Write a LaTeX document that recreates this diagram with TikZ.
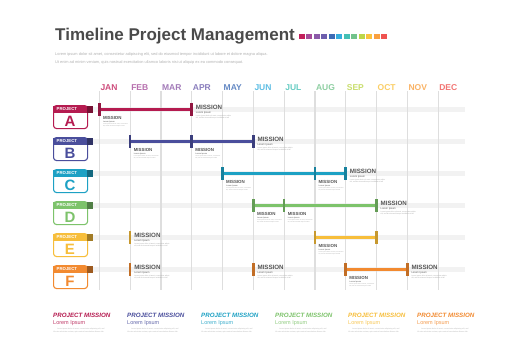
\documentclass[tikz,border=0pt]{standalone}
\usepackage{fontspec}
\setmainfont{Liberation Sans}
\usetikzlibrary{calc,positioning}

\definecolor{colA}{HTML}{B51B50}
\definecolor{colB}{HTML}{4A4E9C}
\definecolor{colC}{HTML}{1DA1C4}
\definecolor{colD}{HTML}{7DC36B}
\definecolor{colE}{HTML}{F7BE3B}
\definecolor{colF}{HTML}{F28A30}
\definecolor{m1}{HTML}{C21F5B}
\definecolor{m2}{HTML}{A54C9A}
\definecolor{m3}{HTML}{8C5AA8}
\definecolor{m4}{HTML}{6D5EAD}
\definecolor{m5}{HTML}{3D6BB5}
\definecolor{m6}{HTML}{36AEDD}
\definecolor{m7}{HTML}{44C0B5}
\definecolor{m8}{HTML}{72C38B}
\definecolor{m9}{HTML}{BCD649}
\definecolor{m10}{HTML}{FAC23F}
\definecolor{m11}{HTML}{F9A03F}
\definecolor{m12}{HTML}{EF5350}
\definecolor{titlegray}{HTML}{4A4A4A}
\definecolor{misgray}{HTML}{555555}

\newcommand{\bigmistext}{MISSION\\[0.8pt]
  \fontsize{2.6}{3}\selectfont\mdseries Lorem Ipsum\\
  \fontsize{1.7}{2.2}\selectfont\mdseries\color{black!35}Lorem ipsum dolor sit amet, consectetur adipis\\
  \fontsize{1.7}{2.2}\selectfont\mdseries\color{black!35}elit, sed do eiusmod tempor incididunt ut lab}
\newcommand{\smallmistext}{MISSION\\[0.5pt]
  \fontsize{2}{2.4}\selectfont\mdseries Lorem Ipsum\\
  \fontsize{1.4}{1.8}\selectfont\mdseries\color{black!35}Lorem ipsum dolor sit amet, consectetur\\
  \fontsize{1.4}{1.8}\selectfont\mdseries\color{black!35}elit, sed do eiusmod tempor incidid}

\tikzset{
  gridline/.style={draw=black!13, line width=1.2pt},
  band/.style={fill=black!5},
  monthlabel/.style={anchor=base west, inner sep=0pt,
    font=\fontsize{8.5}{9}\selectfont\bfseries},
  projbox/.style={draw=#1, line width=1.1pt, rounded corners=3pt, fill=white,
    minimum width=34pt, minimum height=23pt, anchor=north west, inner sep=0pt},
  projtag/.style={fill=#1, text=white, anchor=north west, inner xsep=3.5pt,
    inner ysep=0pt, text width=27pt, align=left, minimum height=6.5pt,
    font=\fontsize{4.3}{4.5}\selectfont\bfseries},
  projletter/.style={text=#1, inner sep=0pt,
    font=\fontsize{15}{15}\selectfont\bfseries},
  ganttbar/.style={draw=#1, line width=2.6pt},
  tickmark/.style={draw=#1!80!black, line width=2.7pt},
  bigmis/.style={anchor=north west, inner sep=0pt, align=left, text=misgray,
    font=\fontsize{6.2}{2.8}\selectfont\bfseries},
  smallmis/.style={anchor=north west, inner sep=0pt, align=left, text=misgray,
    font=\fontsize{4.4}{2.1}\selectfont\bfseries},
  pmtitle/.style={anchor=base west, inner sep=0pt, text=#1,
    font=\fontsize{6.2}{6.5}\selectfont\bfseries\itshape},
  pmsub/.style={inner sep=0pt, text=#1!85,
    font=\fontsize{5.5}{6}\selectfont},
  pmline/.style={inner sep=0pt, align=left, text=black!30,
    font=\fontsize{1.8}{2.8}\selectfont},
}

\begin{document}
\begin{tikzpicture}[x=1pt, y=-1pt]
  \useasboundingbox[fill=white] (0,0) rectangle (509,360);

  % header
  \node[anchor=base west, inner sep=0pt, text=titlegray,
    font=\fontsize{17}{17}\selectfont\bfseries] (title) at (55,40)
    {Timeline Project Management};
  \foreach \i in {1,...,12}
    \fill[m\i] ({299+7.45*(\i-1)},34.3) rectangle ++(6,4.8);
  \node[anchor=base west, inner sep=0pt, text=black!30,
    font=\fontsize{3.9}{4}\selectfont] (lorem1) at (55,55)
    {Lorem ipsum dolor sit amet, consectetur adipiscing elit, sed do eiusmod tempor incididunt ut labore et dolore magna aliqua.};
  \node[anchor=base west, inner sep=0pt, text=black!30,
    font=\fontsize{3.9}{4}\selectfont] (lorem2) at (55,63)
    {Ut enim ad minim veniam, quis nostrud exercitation ullamco laboris nisi ut aliquip ex ea commodo consequat.};

  % months and rows
  \foreach \i in {1,...,12}
    \coordinate (g\i) at ({99.3+30.8*(\i-1)},0);
  \foreach \p [count=\r from 0] in {A,B,C,D,E,F}{
    \coordinate (r\p) at (0,{109.5+32*\r});
    \fill[band] ($(r\p)+(93,-2.7)$) rectangle ($(r\p)+(465,2.7)$);
  }
  \foreach \m [count=\i] in {JAN,FEB,MAR,APR,MAY,JUN,JUL,AUG,SEP,OCT,NOV,DEC}{
    \draw[gridline] ($(g\i)+(0,91)$) -- ($(g\i)+(0,290)$);
    \node[monthlabel, text=m\i!80] (mon\i) at ($(g\i)+(1,90.5)$) {\m};
  }

  % project boxes
  \foreach \p in {A,B,C,D,E,F}{
    \node[projbox=col\p] (box\p) at ($(r\p)+(53,-4.5)$) {};
    \node[projtag=col\p] (tag\p) at ($(r\p)+(53,-3.5)$) {PROJECT};
    \fill[col\p!65!black] (tag\p.north east) rectangle ++(6,6.5);
    \node[projletter=col\p] (let\p) at ($(r\p)+(70,11.5)$) {\p};
  }

  % gantt bars
  \foreach \p/\ms in {A/{1,4},B/{2,4,6},C/{5,8,9},D/{6,7,10},E/{2,8,10},F/{2,6,9,11}}
    \foreach \m in \ms
      \coordinate (\p\m) at (g\m|-r\p);
  \draw[ganttbar=colA] (A1) -- (A4);
  \draw[ganttbar=colB] (B2) -- (B6);
  \draw[ganttbar=colC] (C5) -- (C9);
  \draw[ganttbar=colD] (D6) -- (D10);
  \draw[ganttbar=colE] (E8) -- (E10);
  \draw[ganttbar=colF] (F9) -- (F11);
  \foreach \p/\ms in {A/{1,4},B/{2,4,6},C/{5,8,9},D/{6,7,10},E/{2,8,10},F/{2,6,9,11}}
    \foreach \m in \ms
      \draw[tickmark=col\p] ([yshift=6.5pt]\p\m) -- ([yshift=-6.5pt]\p\m);

  % mission labels
  \foreach \c in {A1,B2,B4,C5,C8,D6,D7,E8,F9}
    \node[smallmis] (s\c) at ($(\c)+(3.5,7)$) {\smallmistext};
  \foreach \c in {A4,B6,C9,D10,E2,F2,F6,F11}
    \node[bigmis] (b\c) at ($(\c)+(4,-4.4)$) {\bigmistext};

  % footer
  \foreach \p/\x in {A/53,B/127,C/201,D/275,E/348,F/417}{
    \node[pmtitle=col\p] (pm\p) at (\x,317) {PROJECT MISSION};
    \node[pmsub=col\p, below=3.5pt of pm\p.south west, anchor=north west] (pl\p) {Lorem Ipsum};
    \node[pmline, below=2pt of pl\p.south west, anchor=north west] (pt\p)
      {\hspace{4pt}Lorem ipsum dolor sit amet, consectetur adipiscing elit, sed\\
       Ut enim ad minim veniam, quis nostrud exercitation ullamco lab};
  }
\end{tikzpicture}
\end{document}
